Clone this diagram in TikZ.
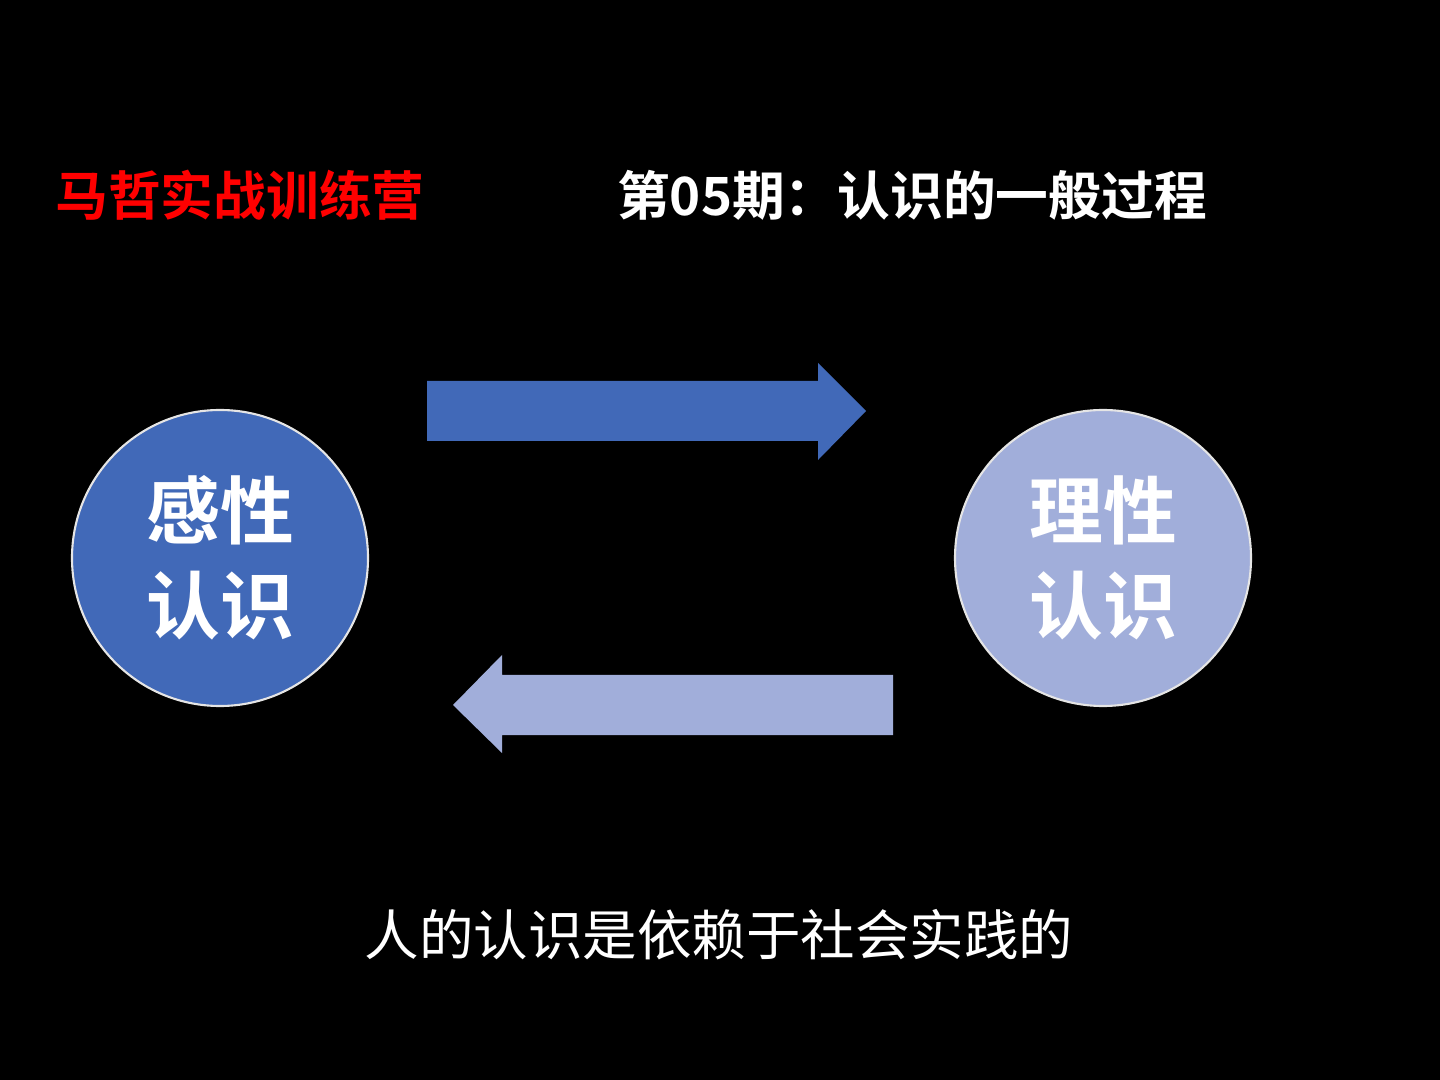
\documentclass[tikz,border=0pt]{standalone}
\usepackage{fontspec}
\setmainfont{Noto Sans CJK SC}
\newfontfamily\cjkb{Noto Sans CJK SC Bold}
\begin{document}
\begin{tikzpicture}[x=0.01cm,y=-0.01cm,
  circ/.style={circle,minimum size=296*0.01cm,draw=white!80!gray,line width=0.6pt,text=white,font=\cjkb\fontsize{21}{27}\selectfont,align=center,inner sep=0pt},
  lbl/.style={text=white,inner sep=0pt}]
\fill[black] (0,0) rectangle (1440,1080);
\useasboundingbox (0,0) rectangle (1440,1080);
\definecolor{dblue}{HTML}{4169B8}
\definecolor{lblue}{HTML}{A1AEDA}
\node[lbl,text=red,font=\cjkb\fontsize{15}{18}\selectfont] (t1) at (240,195) {马哲实战训练营};
\node[lbl,font=\cjkb\fontsize{15}{18}\selectfont] (t2) at (912,195) {第05期：认识的一般过程};
\node[circ,fill=dblue] (a) at (220,558) {感性\\认识};
\node[circ,fill=lblue] (b) at (1103,558) {理性\\认识};
\fill[dblue] (427,381) -- (818,381) -- (818,363) -- (866,411) -- (818,460) -- (818,441) -- (427,441) -- cycle;
\fill[lblue] (893,675) -- (502,675) -- (502,655) -- (453,705) -- (502,753) -- (502,735) -- (893,735) -- cycle;
\node[lbl,font=\fontsize{15.5}{18}\selectfont] (s) at (719,935) {人的认识是依赖于社会实践的};
\end{tikzpicture}
\end{document}
